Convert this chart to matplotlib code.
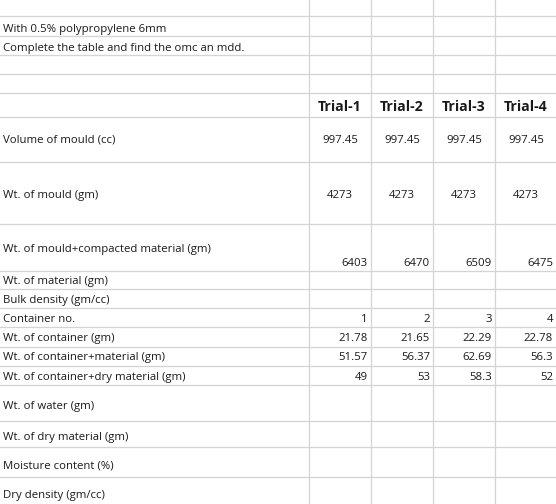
import matplotlib
matplotlib.use("Agg")
import matplotlib.pyplot as plt

# ── data ─────────────────────────────────────────────────────────────────
title_lines = ["With 0.5% polypropylene 6mm", "Complete the table and find the omc an mdd."]
trials = ["Trial-1", "Trial-2", "Trial-3", "Trial-4"]
row_labels = [
    "Volume of mould (cc)", "Wt. of mould (gm)", "Wt. of mould+compacted material (gm)",
    "Wt. of material (gm)", "Bulk density (gm/cc)", "Container no.", "Wt. of container (gm)",
    "Wt. of container+material (gm)", "Wt. of container+dry material (gm)",
    "Wt. of water (gm)", "Wt. of dry material (gm)", "Moisture content (%)", "Dry density (gm/cc)",
]
vol_mould = ["997.45"] * 4
wt_mould = ["4273"] * 4
wt_mould_comp = ["6403", "6470", "6509", "6475"]
container_no = ["1", "2", "3", "4"]
wt_container = ["21.78", "21.65", "22.29", "22.78"]
wt_cont_mat = ["51.57", "56.37", "62.69", "56.3"]
wt_cont_dry = ["49", "53", "58.3", "52"]

# ── layout (pixels) ──────────────────────────────────────────────────────
H_LINES = [16, 36, 55, 74, 93, 117, 162, 224, 271, 289, 308, 327, 347, 366, 385, 421, 447, 477]
V_LINES = [309, 371, 433, 495]
COL_R = V_LINES[1:] + [557]
GRID = "#d4d4d4"

fig = plt.figure(figsize=(5.56, 5.04), dpi=100)
ax = fig.add_axes([0, 0, 1, 1])
ax.set_xlim(0, 556)
ax.set_ylim(504, 0)
ax.axis("off")

for y in H_LINES:
    ax.plot([0, 556], [y, y], color=GRID, lw=0.9)
for x in V_LINES:
    ax.plot([x, x], [0, 504], color=GRID, lw=0.9)

FONT = dict(family="Open Sans", fontsize=8.2, color="#1a1a1a")

ax.text(3, 32, title_lines[0], va="baseline", **FONT)
ax.text(3, 51, title_lines[1], va="baseline", **FONT)

for x0, x1, t in zip(V_LINES, COL_R, trials):
    ax.text((x0 + x1) / 2, 111, t, ha="center", va="baseline",
            family="Open Sans", fontsize=10.2, fontweight="bold", color="#1a1a1a")

# row label baselines
label_y = [143, 198, 252, 284, 303, 322, 341, 360, 380, 409, 440, 469, 498]
for y, lab in zip(label_y, row_labels):
    ax.text(3, y, lab, va="baseline", **FONT)

# centered values
for row, y in ((vol_mould, 143), (wt_mould, 198)):
    for x0, x1, v in zip(V_LINES, COL_R, row):
        ax.text((x0 + x1) / 2, y, v, ha="center", va="baseline", **FONT)

# right-aligned values
for row, y in ((wt_mould_comp, 266), (container_no, 322), (wt_container, 341),
               (wt_cont_mat, 360), (wt_cont_dry, 380)):
    for x1, v in zip(COL_R, row):
        ax.text(min(x1, 556) - 3, y, v, ha="right", va="baseline", **FONT)

fig.savefig("out.png", dpi=100)
